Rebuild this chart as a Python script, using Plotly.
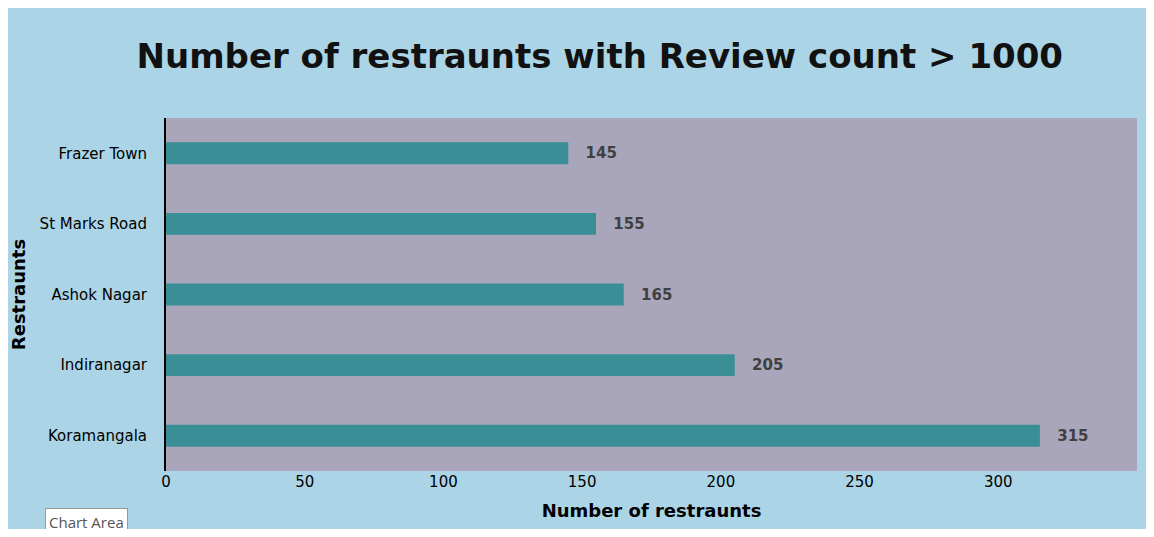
import plotly.graph_objects as go

areas = ["Koramangala", "Indiranagar", "Ashok Nagar", "St Marks Road", "Frazer Town"]
counts = [315, 205, 165, 155, 145]

fig = go.Figure()
fig.add_trace(go.Bar(
    x=counts, y=areas, orientation="h",
    marker=dict(color="#3A8F97", line=dict(width=0)),
    width=0.31,
    text=counts, texttemplate="   <b>%{text}</b>", textposition="outside",
    textfont=dict(size=15, color="#404040", family="DejaVu Sans"),
    cliponaxis=False,
))

# page adds an 8px body margin, so the figure is sized to fit inside it
fig.update_layout(
    width=1138, height=521,
    margin=dict(l=156, r=9, t=110, b=58),
    paper_bgcolor="#ABD5E6",
    plot_bgcolor="#A9A6BB",
    font=dict(family="DejaVu Sans", size=15, color="black"),
    title=dict(text="<b>Number of restraunts with Review count &gt; 1000</b>",
               x=0.52, xanchor="center", y=0.93, font=dict(size=34, color="#111")),
    xaxis=dict(range=[0, 350], dtick=50, showgrid=False, zeroline=False,
               title=dict(text="<b>Number of restraunts</b>", standoff=14),
               ticks="", tickfont=dict(size=15)),
    yaxis=dict(showline=True, linecolor="black", linewidth=2, showgrid=False,
               title=dict(text="<b>Restraunts</b>", standoff=10),
               ticks="", ticklabelstandoff=14),
    showlegend=False,
)

fig.add_annotation(text="Chart Area", xref="paper", yref="paper", x=-0.125, y=-0.105,
                   xanchor="left", yanchor="top", showarrow=False,
                   font=dict(size=15, color="#555", family="Open Sans"),
                   bgcolor="white", bordercolor="#999", borderwidth=1, borderpad=3)

fig.write_html("out.html")
